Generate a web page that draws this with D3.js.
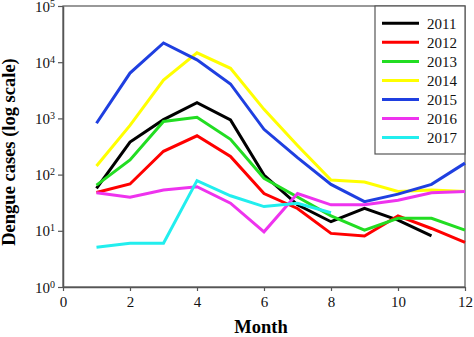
<!DOCTYPE html>
<html>
<head>
<meta charset="utf-8">
<script src="https://cdn.jsdelivr.net/npm/d3@7"></script>
<style>
  body { margin: 0; background: #fff; }
  svg, svg text { font-family: "Liberation Serif", "Times New Roman", Times, "DejaVu Serif", serif; }
</style>
</head>
<body>
<div id="root"></div>
<script>
const months = [1, 2, 3, 4, 5, 6, 7, 8, 9, 10, 11, 12];
const years = ["2011", "2012", "2013", "2014", "2015", "2016", "2017"];
const colors = ["#000000", "#ff0000", "#22dd22", "#ffff00", "#1f3fe0", "#ee33ee", "#22eeee"];

const cases2011 = [57, 380, 950, 1900, 940, 98, 29, 14.5, 25, 15.5, 8.1];
const cases2012 = [48, 68, 260, 490, 210, 46, 25, 9, 8.1, 18.4, 11, 6.2];
const cases2013 = [65, 182, 880, 1050, 425, 86, 40, 18.4, 10.3, 16.7, 16.7, 10.3];
const cases2014 = [142, 750, 4800, 14700, 7800, 1450, 330, 80, 74, 50, 53, 50];
const cases2015 = [820, 6400, 22000, 11000, 4100, 640, 200, 67, 33, 45, 67, 160];
const cases2016 = [47.5, 39.5, 53, 61, 31, 9.6, 46, 29, 29, 35, 47.5, 50];
const cases2017 = [5.1, 6, 6, 78, 42, 27, 31, 21];

const xTicks = [0, 2, 4, 6, 8, 10, 12];
const yTicks = [1, 10, 100, 1000, 10000, 100000];

const allData = [cases2011, cases2012, cases2013, cases2014, cases2015, cases2016, cases2017];

const serif = "Liberation Serif, Times New Roman, Times, serif";
const width = 474, height = 337;
const margin = { top: 6, right: 9, bottom: 50, left: 63 };

const svg = d3.select("#root").append("svg")
  .attr("width", width)
  .attr("height", height);

let x = d3.scaleLinear()
  .domain([0, 12])
  .range([margin.left, width - margin.right]);

let y = d3.scaleLog()
  .domain([1, 100000])
  .range([height - margin.bottom, margin.top]);

// frame
svg.append("rect")
  .attr("x", x(0))
  .attr("y", y(100000))
  .attr("width", x(12) - x(0))
  .attr("height", y(1) - y(100000))
  .attr("fill", "none")
  .attr("stroke", "#555")
  .attr("stroke-width", 1.2);

// x axis
let xAxis = svg.append("g")
  .attr("transform", "translate(0," + y(1) + ")")
  .call(d3.axisBottom(x).tickValues(xTicks).tickSize(4).tickPadding(5).tickSizeOuter(0))
  .attr("font-family", serif);
xAxis.select(".domain").attr("stroke", "#555").attr("stroke-width", 1.5);
xAxis.selectAll(".tick line").attr("stroke", "#555").attr("stroke-width", 1.2);
xAxis.selectAll("text")
  .attr("font-size", 15)
  .attr("fill", "#111");

// y axis with superscript labels
let yAxis = svg.append("g")
  .attr("transform", "translate(" + x(0) + ",0)")
  .call(d3.axisLeft(y).tickValues(yTicks).tickSize(5).tickSizeOuter(0).tickFormat(""))
  .attr("font-family", serif);
yAxis.select(".domain").attr("stroke", "#555").attr("stroke-width", 1.5);
yAxis.selectAll(".tick line").attr("stroke", "#555").attr("stroke-width", 1.2);

yAxis.selectAll(".tick").each(function(d) {
  let t = d3.select(this).select("text")
    .attr("x", -8)
    .attr("dy", "0.5em")
    .attr("text-anchor", "end")
    .attr("fill", "#111");
  t.append("tspan").attr("font-size", 15).text("10");
  t.append("tspan")
    .attr("font-size", 10)
    .attr("dy", -5)
    .text(Math.round(Math.log10(d)));
});

// lines
const line = d3.line()
  .x(function(d) { return x(d.month); })
  .y(function(d) { return y(d.value); });

for (let idx = 0; idx < allData.length; idx++) {
  let data = allData[idx].map(function(v, i) {
    return { month: months[i], value: v };
  });
  svg.append("path")
    .datum(data)
    .attr("fill", "none")
    .attr("stroke", colors[idx])
    .attr("stroke-width", 3)
    .attr("stroke-linejoin", "miter")
    .attr("d", line);
}

// legend
let lg = svg.append("g").attr("font-family", serif);
lg.append("rect")
  .attr("x", 375)
  .attr("y", y(100000))
  .attr("width", x(12) - 375)
  .attr("height", 148)
  .attr("fill", "#fff")
  .attr("stroke", "#555")
  .attr("stroke-width", 1.2);

years.forEach(function(yr, idx) {
  let row = lg.append("g")
    .attr("transform", "translate(382," + (23.3 + idx * 19.05) + ")");
  row.append("line")
    .attr("x1", 0)
    .attr("x2", 37)
    .attr("stroke", colors[idx])
    .attr("stroke-width", 3);
  row.append("text")
    .attr("x", 45)
    .attr("dy", "0.35em")
    .attr("font-size", 15)
    .attr("fill", "#111")
    .text(yr);
});

// axis titles
svg.append("text")
  .attr("x", (x(0) + x(12)) / 2 - 3)
  .attr("y", 333)
  .attr("text-anchor", "middle")
  .attr("font-family", serif)
  .attr("font-weight", "bold")
  .attr("font-size", 18.5)
  .text("Month");

svg.append("text")
  .attr("transform", "translate(15,152) rotate(-90)")
  .attr("text-anchor", "middle")
  .attr("font-family", serif)
  .attr("font-weight", "bold")
  .attr("font-size", 18.5)
  .text("Dengue cases (log scale)");
</script>
</body>
</html>
